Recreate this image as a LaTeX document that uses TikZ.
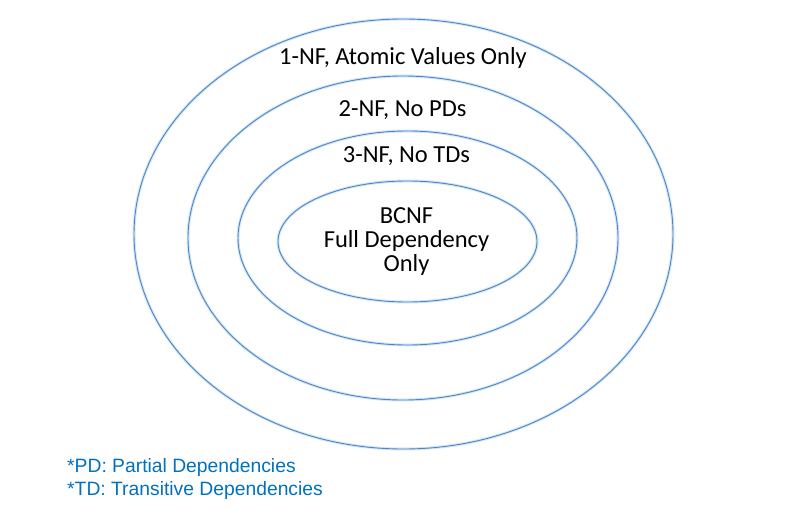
\documentclass[tikz,border=0pt]{standalone}
\usepackage{fontspec}
\setmainfont{Carlito}
\newfontfamily\notefont{Liberation Sans}
\definecolor{ringblue}{RGB}{74,134,200}
\definecolor{ringglow}{RGB}{214,230,245}
\definecolor{noteblue}{RGB}{0,112,192}
\begin{document}
\begin{tikzpicture}[x=1pt,y=-1pt,
  ring/.style={draw=ringblue,line width=0.9pt,
    preaction={draw=ringglow,line width=3pt}},
  lbl/.style={font=\fontsize{24.5}{24}\selectfont,text=black,inner sep=0pt,align=center},
  note/.style={font=\notefont\fontsize{19.3}{22}\selectfont,text=noteblue,inner sep=0pt,anchor=west}]
\useasboundingbox (0,0) rectangle (795,524);
\draw[ring] (403.5,234) ellipse [x radius=269.5,y radius=215];
\draw[ring] (403,238) ellipse [x radius=215,y radius=162];
\draw[ring] (407.5,238) ellipse [x radius=169.5,y radius=107];
\draw[ring] (407.5,241.5) ellipse [x radius=129.5,y radius=60.5];
\node[lbl] (nf1) at (403,58) {1-NF, Atomic Values Only};
\node[lbl] (nf2) at (402.5,110) {2-NF, No PDs};
\node[lbl] (nf3) at (406.5,156) {3-NF, No TDs};
\node[lbl] (bcnf) at (406.5,242) {BCNF\\Full Dependency\\Only};
\node[note] (pd) at (67,468) {*PD: Partial Dependencies};
\node[note] (td) at (67,491) {*TD: Transitive Dependencies};
\end{tikzpicture}
\end{document}
